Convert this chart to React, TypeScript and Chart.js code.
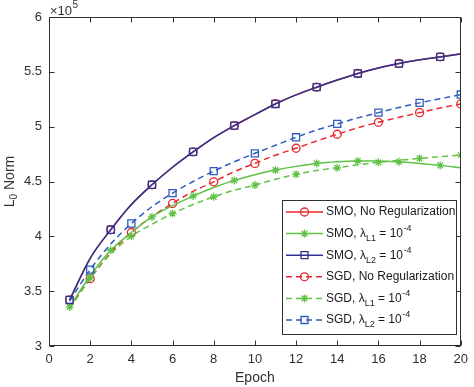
import React, { useEffect, useRef } from "react";
import { Chart, registerables } from "chart.js";

Chart.register(...registerables);

// ---- data (values in units of 10^5) ----
const epochs = [1, 2, 3, 4, 5, 6, 7, 8, 9, 10, 11, 12, 13, 14, 15, 16, 17, 18, 19, 20];
const smoNoReg = [3.42, 3.8, 4.06, 4.29, 4.47, 4.63, 4.77, 4.9, 5.01, 5.11, 5.21, 5.29, 5.36, 5.425, 5.485, 5.535, 5.576, 5.61, 5.637, 5.665];
const smoL1 = [3.355, 3.64, 3.873, 4.035, 4.177, 4.28, 4.367, 4.445, 4.51, 4.562, 4.604, 4.638, 4.665, 4.68, 4.687, 4.688, 4.68, 4.665, 4.647, 4.625];
const smoL2 = [3.42, 3.8, 4.06, 4.29, 4.47, 4.63, 4.77, 4.9, 5.01, 5.11, 5.207, 5.29, 5.36, 5.425, 5.485, 5.535, 5.575, 5.61, 5.636, 5.663];
const sgdNoReg = [3.345, 3.614, 3.85, 4.035, 4.18, 4.3, 4.41, 4.497, 4.59, 4.665, 4.74, 4.803, 4.87, 4.931, 4.99, 5.04, 5.085, 5.128, 5.17, 5.207];
const sgdL1 = [3.34, 3.62, 3.84, 4.0, 4.11, 4.208, 4.29, 4.36, 4.42, 4.467, 4.52, 4.565, 4.6, 4.625, 4.652, 4.675, 4.692, 4.711, 4.726, 4.741];
const sgdL2 = [3.41, 3.697, 3.93, 4.117, 4.27, 4.394, 4.5, 4.595, 4.68, 4.757, 4.83, 4.903, 4.97, 5.025, 5.08, 5.128, 5.175, 5.217, 5.255, 5.293];

const xTicks = [0, 2, 4, 6, 8, 10, 12, 14, 16, 18, 20];
const yTicks = [3, 3.5, 4, 4.5, 5, 5.5, 6];
const xTitle = "Epoch";
const yTitleMain = "L";
const yTitleSub = "0";
const yTitleRest = " Norm";
const exponentBase = "\u00d710";
const exponentPower = "5";

const RED = "#e8262b";
const GREEN = "#5fc246";
const NAVY = "#2d3592";
const BLUE = "#2e5cc0";
const AXIS = "#303030";
const FONT = "'Liberation Sans', Arial, Helvetica, sans-serif";

type Entry = {
  color: string;
  dashed: boolean;
  marker: "circle" | "star" | "rect";
  prefix: string;
  sub: string;
  suffix: string;
  sup: string;
};

const legendEntries: Entry[] = [
  { color: RED, dashed: false, marker: "circle", prefix: "SMO, No Regularization", sub: "", suffix: "", sup: "" },
  { color: GREEN, dashed: false, marker: "star", prefix: "SMO, \u03bb", sub: "L1", suffix: " = 10", sup: "-4" },
  { color: NAVY, dashed: false, marker: "rect", prefix: "SMO, \u03bb", sub: "L2", suffix: " = 10", sup: "-4" },
  { color: RED, dashed: true, marker: "circle", prefix: "SGD, No Regularization", sub: "", suffix: "", sup: "" },
  { color: GREEN, dashed: true, marker: "star", prefix: "SGD, \u03bb", sub: "L1", suffix: " = 10", sup: "-4" },
  { color: BLUE, dashed: true, marker: "rect", prefix: "SGD, \u03bb", sub: "L2", suffix: " = 10", sup: "-4" },
];

function pts(vals: number[]) {
  return vals.map((v, i) => ({ x: epochs[i], y: v }));
}
function radii(odd: boolean, r: number) {
  return epochs.map((e) => ((e % 2 === 1) === odd ? r : 0));
}

function drawMarker(ctx: CanvasRenderingContext2D, m: string, x: number, y: number) {
  ctx.beginPath();
  if (m === "circle") {
    ctx.arc(x, y, 4, 0, Math.PI * 2);
  } else if (m === "rect") {
    ctx.rect(x - 3.5, y - 3.5, 7, 7);
  } else {
    const r = 4;
    for (let k = 0; k < 4; k++) {
      const a = (k * Math.PI) / 4;
      ctx.moveTo(x - r * Math.cos(a), y - r * Math.sin(a));
      ctx.lineTo(x + r * Math.cos(a), y + r * Math.sin(a));
    }
  }
  ctx.stroke();
}

const framePlugin = {
  id: "frame",
  afterDraw(chart: any) {
    const { ctx, chartArea: a, scales } = chart;
    const xs = scales.x;
    const ys = scales.y;
    ctx.save();
    ctx.strokeStyle = AXIS;
    ctx.lineWidth = 1;
    const L = Math.round(a.left) + 0.5;
    const R = Math.round(a.right) - 0.5;
    const T = Math.round(a.top) + 0.5;
    const B = Math.round(a.bottom) - 0.5;
    ctx.strokeRect(L, T, R - L, B - T);
    ctx.beginPath();
    for (const v of xTicks) {
      const px = Math.round(xs.getPixelForValue(v)) + 0.5;
      ctx.moveTo(px, B);
      ctx.lineTo(px, B - 5);
      ctx.moveTo(px, T);
      ctx.lineTo(px, T + 5);
    }
    for (const v of yTicks) {
      const py = Math.round(ys.getPixelForValue(v)) + 0.5;
      ctx.moveTo(L, py);
      ctx.lineTo(L + 5, py);
      ctx.moveTo(R, py);
      ctx.lineTo(R - 5, py);
    }
    ctx.stroke();

    // exponent label
    ctx.fillStyle = AXIS;
    ctx.textBaseline = "alphabetic";
    ctx.textAlign = "left";
    ctx.font = `13px ${FONT}`;
    ctx.fillText(exponentBase, a.left + 1, a.top - 2);
    const ew = ctx.measureText(exponentBase).width;
    ctx.font = `10px ${FONT}`;
    ctx.fillText(exponentPower, a.left + 1 + ew + 0.5, a.top - 9);

    // x title
    ctx.font = `14px ${FONT}`;
    ctx.textAlign = "center";
    ctx.textBaseline = "middle";
    ctx.fillText(xTitle, (a.left + a.right) / 2, 378);

    // y title (rotated)
    ctx.save();
    ctx.translate(10, (a.top + a.bottom) / 2);
    ctx.rotate(-Math.PI / 2);
    ctx.textAlign = "left";
    ctx.textBaseline = "middle";
    ctx.font = `14px ${FONT}`;
    const w1 = ctx.measureText(yTitleMain).width;
    ctx.font = `10px ${FONT}`;
    const w2 = ctx.measureText(yTitleSub).width;
    ctx.font = `14px ${FONT}`;
    const w3 = ctx.measureText(yTitleRest).width;
    let sx = -(w1 + w2 + w3) / 2;
    ctx.fillText(yTitleMain, sx, 0);
    sx += w1;
    ctx.font = `10px ${FONT}`;
    ctx.fillText(yTitleSub, sx, 4);
    sx += w2;
    ctx.font = `14px ${FONT}`;
    ctx.fillText(yTitleRest, sx, 0);
    ctx.restore();

    // legend
    const bx = 282.5, by = 200.5, bw = 174, bh = 134;
    ctx.fillStyle = "#ffffff";
    ctx.fillRect(bx, by, bw, bh);
    ctx.strokeStyle = AXIS;
    ctx.lineWidth = 1;
    ctx.strokeRect(bx, by, bw, bh);
    legendEntries.forEach((e, i) => {
      const cy = 212 + i * 21.6;
      ctx.strokeStyle = e.color;
      ctx.lineWidth = 1.5;
      ctx.setLineDash(e.dashed ? [6, 4] : []);
      ctx.beginPath();
      ctx.moveTo(286, cy);
      ctx.lineTo(323, cy);
      ctx.stroke();
      ctx.setLineDash([]);
      ctx.lineWidth = 1.3;
      drawMarker(ctx, e.marker, 304.5, cy);
      ctx.fillStyle = "#1a1a1a";
      ctx.textAlign = "left";
      ctx.textBaseline = "middle";
      let tx = 326;
      ctx.font = `12px ${FONT}`;
      ctx.fillText(e.prefix, tx, cy);
      tx += ctx.measureText(e.prefix).width;
      if (e.sub) {
        ctx.font = `9px ${FONT}`;
        ctx.fillText(e.sub, tx, cy + 5);
        tx += ctx.measureText(e.sub).width;
        ctx.font = `12px ${FONT}`;
        ctx.fillText(e.suffix, tx, cy);
        tx += ctx.measureText(e.suffix).width;
        ctx.font = `9px ${FONT}`;
        ctx.fillText(e.sup, tx + 0.5, cy - 5);
      }
    });
    ctx.restore();
  },
};

export default function App() {
  const ref = useRef<HTMLCanvasElement | null>(null);
  useEffect(() => {
    document.body.style.margin = "0";
    const canvas = ref.current;
    if (!canvas) return;
    const mk = (label: string, vals: number[], color: string, dashed: boolean, style: string, odd: boolean, r: number, order: number) => ({
      label,
      data: pts(vals),
      borderColor: color,
      backgroundColor: "rgba(0,0,0,0)",
      pointBorderColor: color,
      pointBackgroundColor: "rgba(0,0,0,0)",
      pointStyle: style,
      pointRadius: radii(odd, r),
      pointBorderWidth: 1.3,
      borderWidth: 1.5,
      borderDash: dashed ? [6, 4] : [],
      cubicInterpolationMode: "monotone",
      fill: false,
      order,
    });
    const chart = new Chart(canvas, {
      type: "line",
      data: {
        datasets: [
          mk("SMO, No Regularization", smoNoReg, RED, false, "circle", true, 4, 3),
          mk("SMO, L1", smoL1, GREEN, false, "star", true, 4, 2),
          mk("SMO, L2", smoL2, NAVY, false, "rect", true, 5, 0),
          mk("SGD, No Regularization", sgdNoReg, RED, true, "circle", false, 4, 5),
          mk("SGD, L1", sgdL1, GREEN, true, "star", false, 4, 4),
          mk("SGD, L2", sgdL2, BLUE, true, "rect", false, 5, 1),
        ] as any,
      },
      options: {
        animation: false,
        responsive: false,
        maintainAspectRatio: false,
        layout: { padding: { left: 0, top: 17, right: 7, bottom: 0 } },
        plugins: { legend: { display: false }, tooltip: { enabled: false } },
        scales: {
          x: {
            type: "linear",
            min: 0,
            max: 20,
            afterFit: (s: any) => { s.height = 41; },
            afterBuildTicks: (s: any) => { s.ticks = xTicks.map((v) => ({ value: v })); },
            ticks: { color: AXIS, font: { family: FONT, size: 13 }, padding: 6, maxRotation: 0, autoSkip: false, callback: (v: any) => String(v) },
            grid: { display: true, drawOnChartArea: false, drawTicks: false },
            border: { display: false },
          },
          y: {
            type: "linear",
            min: 3,
            max: 6,
            afterFit: (s: any) => { s.width = 49; },
            afterBuildTicks: (s: any) => { s.ticks = yTicks.map((v) => ({ value: v })); },
            ticks: { color: AXIS, font: { family: FONT, size: 13 }, padding: 7, autoSkip: false, callback: (v: any) => String(v) },
            grid: { display: true, drawOnChartArea: false, drawTicks: false },
            border: { display: false },
          },
        },
      } as any,
      plugins: [framePlugin],
    });
    return () => chart.destroy();
  }, []);
  return <canvas ref={ref} width={474} height={387} style={{ display: "block", width: 474, height: 387 }} />;
}
